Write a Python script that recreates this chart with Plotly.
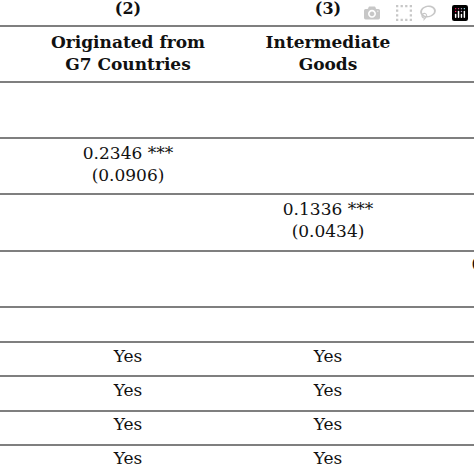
import plotly.graph_objects as go

# table content (cropped view of a regression table)
col_labels = ["(2)", "(3)"]
col_x = [128, 328]
header_lines = [["Originated from", "G7 Countries"], ["Intermediate", "Goods"]]
coef_rows = [
    ("0.2346 ***", "(0.0906)", 0, 166),
    ("0.1336 ***", "(0.0434)", 1, 222),
]
yes_rows_y = [358, 392, 426, 460]
rule_y = [26, 82, 138, 194, 251, 307, 342, 376, 411, 445]

FONT = "DejaVu Serif"
fig = go.Figure()

# column numbers
fig.add_trace(go.Scatter(x=col_x, y=[10, 10], mode="text", text=["<b>%s</b>" % c for c in col_labels],
                         textfont=dict(family=FONT, size=16, color="#111")))
# headers
for i, (a, b) in enumerate(header_lines):
    fig.add_trace(go.Scatter(x=[col_x[i]] * 2, y=[44, 66], mode="text",
                             text=["<b>%s</b>" % a, "<b>%s</b>" % b],
                             textfont=dict(family=FONT, size=17, color="#111")))
# coefficients
for coef, se, ci, yc in coef_rows:
    fig.add_trace(go.Scatter(x=[col_x[ci]] * 2, y=[yc - 11, yc + 11], mode="text", text=[coef, se],
                             textfont=dict(family=FONT, size=17, color="#111")))
# partially visible column (4)
fig.add_trace(go.Scatter(x=[477], y=[266], mode="text", text=["0"],
                         textfont=dict(family=FONT, size=17, color="#111")))
# fixed effects rows
for yy in yes_rows_y:
    fig.add_trace(go.Scatter(x=col_x, y=[yy, yy], mode="text", text=["Yes", "Yes"],
                             textfont=dict(family=FONT, size=17, color="#111")))

for yy in rule_y:
    fig.add_shape(type="line", xref="paper", x0=0, x1=1, y0=yy, y1=yy, line=dict(color="#555", width=1.5))

fig.update_layout(width=474, height=474, margin=dict(l=0, r=0, t=0, b=0), showlegend=False,
                  plot_bgcolor="white", paper_bgcolor="white",
                  xaxis=dict(range=[0, 474], visible=False, fixedrange=True),
                  yaxis=dict(range=[474, 0], visible=False, fixedrange=True))
fig.write_html("out.html", post_script="document.body.style.margin='0';")
